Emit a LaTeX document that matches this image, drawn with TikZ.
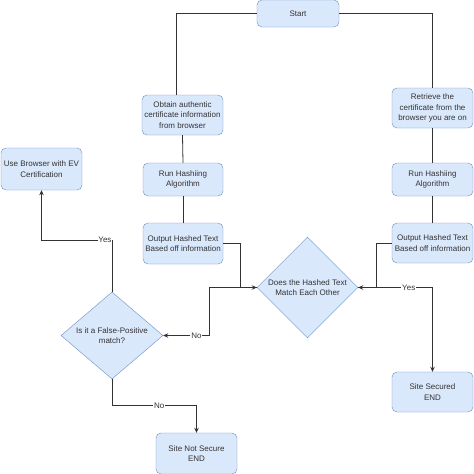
\documentclass[tikz,border=0pt]{standalone}
\usepackage{fontspec}
\setmainfont{Liberation Sans}
\usetikzlibrary{arrows.meta,shapes.geometric}
\definecolor{fillc}{HTML}{DAE8FC}
\definecolor{bordc}{HTML}{6C8EBF}
\definecolor{linec}{HTML}{333333}
\tikzset{
  txt/.style={font=\fontsize{8}{10.3}\selectfont, text=linec},
  box/.style={txt, draw=bordc, fill=fillc, rounded corners=5pt, align=center, inner sep=1pt},
  decision/.style={txt, draw=bordc, fill=fillc, shape=diamond, align=center, inner sep=0pt},
  conn/.style={draw=linec, line width=0.8pt},
  arr/.style={conn, -{Stealth[length=5pt,width=4.5pt]}},
  lbl/.style={txt, fill=white, inner sep=0.8pt}
}
\begin{document}
\begin{tikzpicture}[x=1pt,y=-1pt]
\useasboundingbox (0,0) rectangle (474,474);
\node[box, minimum width=82pt, minimum height=27pt] (start) at (298,13.5) {Start};
\node[box, minimum width=81pt, minimum height=40pt] (obtain) at (182.5,115) {Obtain authentic\\certificate information\\from browser};
\node[box, minimum width=81pt, minimum height=40pt] (retrieve) at (432.5,108) {Retrieve the\\certificate from the\\browser you are on};
\node[box, minimum width=80pt, minimum height=33pt] (runL) at (183,179.5) {Run Hashiing\\Algorithm};
\node[box, minimum width=80pt, minimum height=41pt] (outL) at (183,243.5) {Output Hashed Text\\Based off information};
\node[box, minimum width=81pt, minimum height=33pt] (runR) at (432.5,179.5) {Run Hashiing\\Algorithm};
\node[box, minimum width=81pt, minimum height=40pt] (outR) at (432.5,243) {Output Hashed Text\\Based off information};
\node[decision, minimum width=101pt, minimum height=101pt, aspect=1] (match) at (307.5,287.5) {Does the Hashed Text\\Match Each Other};
\node[decision, minimum width=102pt, minimum height=87pt, aspect=1.17] (fp) at (112,335.5) {Is it a False-Positive\\match?};
\node[box, minimum width=81pt, minimum height=42pt] (ev) at (41.5,169) {Use Browser with EV\\Certification};
\node[box, minimum width=81pt, minimum height=40pt] (secured) at (432.5,392) {Site Secured\\END};
\node[box, minimum width=81pt, minimum height=41pt] (notsecure) at (196.5,453.5) {Site Not Secure\\END};

\draw[conn] (start.west) -| ([xshift=-6.5pt]obtain.north);
\draw[conn] (start.east) -| (retrieve.north);
\draw[conn] (obtain.south) -- (runL.north);
\draw[conn] (runL.south) -- (outL.north);
\draw[conn] (retrieve.south) -- (runR.north);
\draw[conn] (runR.south) -- (outR.north);
\draw[arr] (outL.east) -| ([xshift=-16pt]match.west) -- (match.west);
\draw[arr] (outR.west) -| ([xshift=18pt]match.east) -- (match.east);
\draw[arr] (match.east) -| node[lbl, pos=0.34] {Yes} (secured.north);
\draw[arr] (match.west) -- ([xshift=-47.5pt]match.west) |- node[lbl, pos=0.64] {No} (fp.east);
\draw[arr] (fp.north) |- node[lbl, pos=0.55] {Yes} ([yshift=-50pt]ev.south) -- (ev.south);
\draw[arr] (fp.south) |- node[lbl, pos=0.78] {No} ([yshift=27pt]notsecure.north) -- (notsecure.north);
\end{tikzpicture}
\end{document}
